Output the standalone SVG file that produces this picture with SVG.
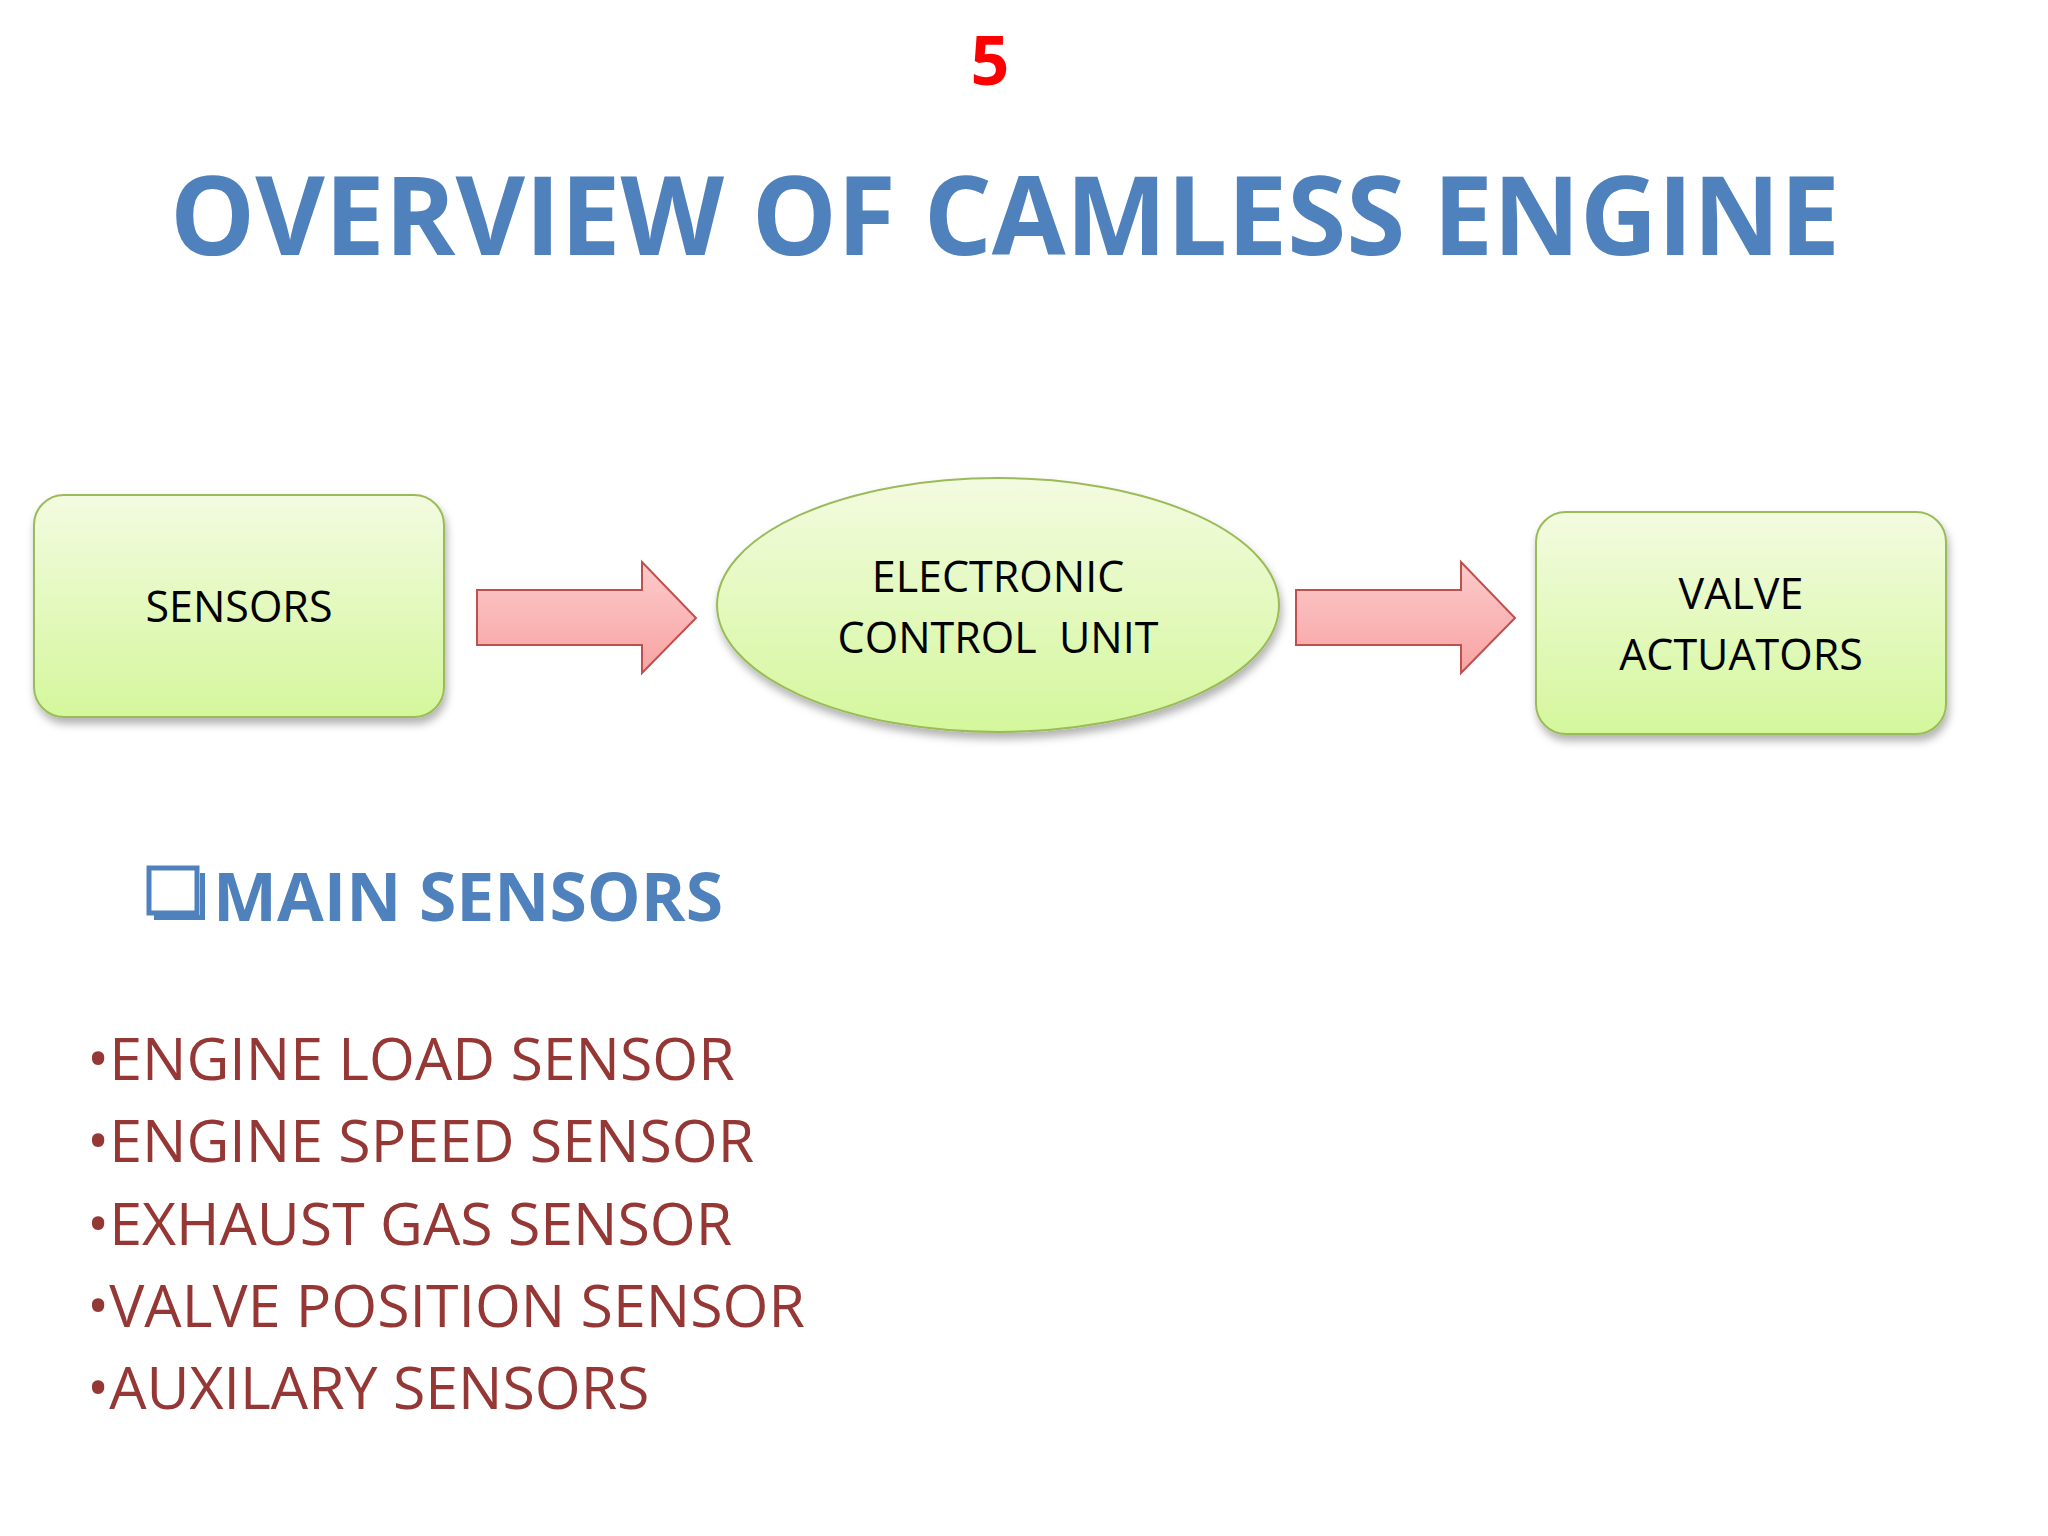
<svg xmlns="http://www.w3.org/2000/svg" width="2048" height="1536" viewBox="0 0 2048 1536">
<defs>
<linearGradient id="g" x1="0" y1="0" x2="0" y2="1"><stop offset="0" stop-color="#f3fbe0"/><stop offset="1" stop-color="#d4f79c"/></linearGradient>
<linearGradient id="a" x1="0" y1="0" x2="0" y2="1"><stop offset="0" stop-color="#fccaca"/><stop offset="1" stop-color="#f9a3a3"/></linearGradient>
<filter id="sh" x="-10%" y="-10%" width="120%" height="130%"><feDropShadow dx="2" dy="6" stdDeviation="4" flood-color="#000" flood-opacity="0.3"/></filter>
<style>
.n{fill:url(#g);stroke:#9bbb59;stroke-width:2;filter:url(#sh)}
.t{font-family:"Open Sans","DejaVu Sans",sans-serif;font-size:43px;fill:#000;text-anchor:middle}
.arr{fill:url(#a);stroke:#c0504d;stroke-width:2}
.b{font-family:"Open Sans","DejaVu Sans",sans-serif;font-size:59px;fill:#953735}
</style>
</defs>
<rect width="2048" height="1536" fill="#fff"/>
<text x="990" y="85" font-family="Open Sans,sans-serif" font-weight="bold" font-size="68" fill="#ff0000" text-anchor="middle">5</text>
<text x="1005" y="255" font-family="Open Sans,sans-serif" font-weight="bold" font-size="110" fill="#4f81bd" text-anchor="middle" textLength="1670" lengthAdjust="spacingAndGlyphs">OVERVIEW OF CAMLESS ENGINE</text>
<g id="sensors"><rect class="n" x="34" y="495" width="410" height="222" rx="30"/><text class="t" x="239" y="622">SENSORS</text></g>
<g id="ecu"><ellipse class="n" cx="998" cy="605" rx="281" ry="127"/><text class="t" x="998" y="592">ELECTRONIC</text><text class="t" x="998" y="653" xml:space="preserve">CONTROL  UNIT</text></g>
<g id="valve"><rect class="n" x="1536" y="512" width="410" height="222" rx="30"/><text class="t" x="1741" y="609">VALVE</text><text class="t" x="1741" y="670">ACTUATORS</text></g>
<g id="connectors">
<polygon class="arr" points="477,590 642,590 642,562 696,618 642,673 642,645 477,645"/>
<polygon class="arr" points="1296,590 1461,590 1461,562 1515,618 1461,673 1461,645 1296,645"/>
</g>
<path d="M154,915 L154,920 L205,920 L205,873 L200,873 L200,915 Z" fill="#4f81bd"/>
<rect x="149" y="868" width="48" height="45" fill="none" stroke="#4f81bd" stroke-width="5"/>
<text x="213" y="921" font-family="Open Sans,sans-serif" font-weight="bold" font-size="66" fill="#4f81bd" textLength="510" lengthAdjust="spacingAndGlyphs">MAIN SENSORS</text>
<text class="b" x="87" y="1080">•ENGINE LOAD SENSOR</text>
<text class="b" x="87" y="1162">•ENGINE SPEED SENSOR</text>
<text class="b" x="87" y="1245">•EXHAUST GAS SENSOR</text>
<text class="b" x="87" y="1327">•VALVE POSITION SENSOR</text>
<text class="b" x="87" y="1409">•AUXILARY SENSORS</text>
</svg>
